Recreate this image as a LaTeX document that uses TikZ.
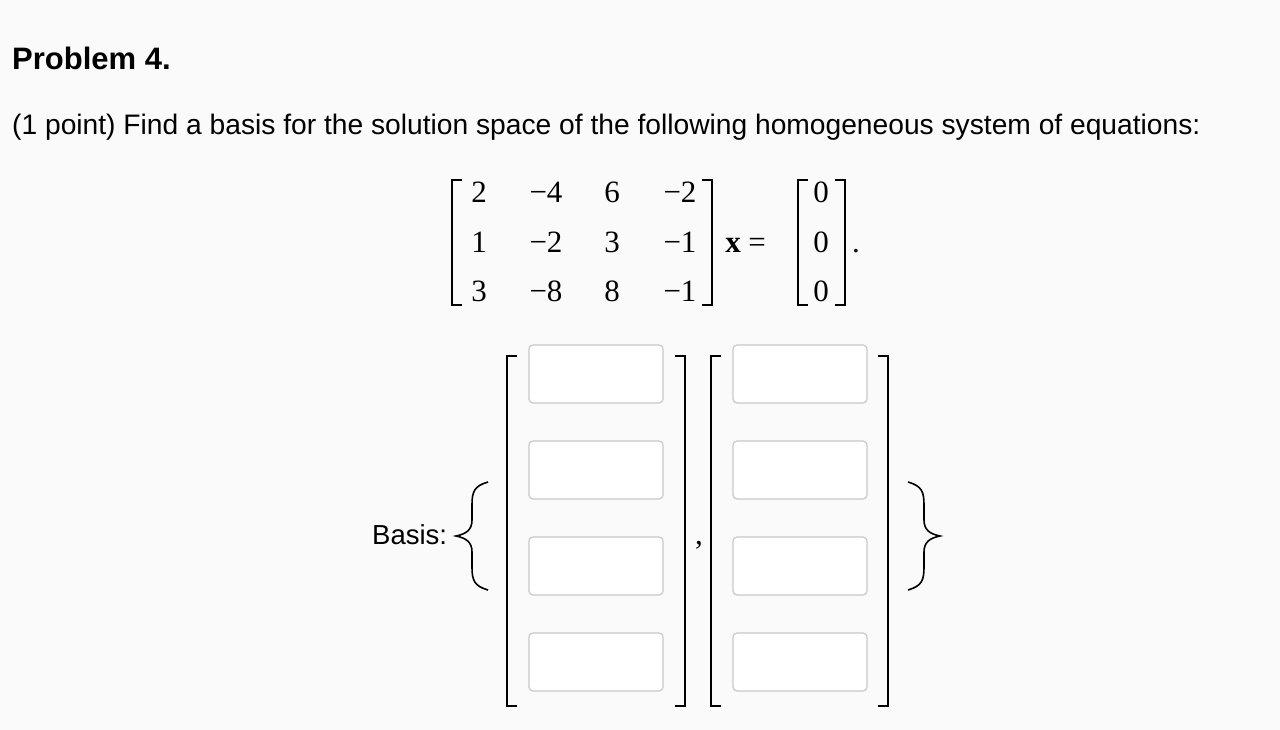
\documentclass[tikz,border=0pt]{standalone}
\usepackage{fontspec}
\setmainfont{Liberation Sans}
\newfontfamily\serif{Liberation Serif}
\definecolor{bg}{HTML}{FAFAFA}
\definecolor{boxc}{HTML}{C8C8C8}
\begin{document}
\begin{tikzpicture}[x=1pt,y=-1pt,
  inbox/.style={draw=boxc,fill=white,rounded corners=4pt,minimum width=134pt,minimum height=58pt,line width=1.2pt,inner sep=0},
  num/.style={font=\serif\fontsize{31}{31}\selectfont,anchor=base,inner sep=0},
  brk/.style={line width=1.6pt}]
\fill[bg] (0,0) rectangle (1280,730);
\useasboundingbox (0,0) rectangle (1280,730);
\node[anchor=base west,font=\bfseries\fontsize{31}{31}\selectfont,inner sep=0] (title) at (12,70) {Problem 4.};
\node[anchor=base west,font=\fontsize{28.2}{28}\selectfont,inner sep=0] (q) at (12,135) {(1 point) Find a basis for the solution space of the following homogeneous system of equations:};
% matrix brackets
\draw[brk] (462,180) -- (452,180) -- (452,305) -- (462,305);
\draw[brk] (702,180) -- (712,180) -- (712,305) -- (702,305);
\node[num] (a11) at (479,203) {2};
\node[num] (a12) at (546,203) {−4};
\node[num] (a13) at (612,203) {6};
\node[num] (a14) at (680,203) {−2};
\node[num] (a21) at (479,252) {1};
\node[num] (a22) at (546,252) {−2};
\node[num] (a23) at (612,252) {3};
\node[num] (a24) at (680,252) {−1};
\node[num] (a31) at (479,301) {3};
\node[num] (a32) at (546,301) {−8};
\node[num] (a33) at (612,301) {8};
\node[num] (a34) at (680,301) {−1};
\node[num,font=\serif\bfseries\fontsize{31}{31}\selectfont] (xv) at (733,252) {x};
\node[num] (eq) at (757,252) {=};
\draw[brk] (808,180) -- (798,180) -- (798,305) -- (808,305);
\draw[brk] (835,180) -- (845,180) -- (845,305) -- (835,305);
\node[num] (b1) at (821,203) {0};
\node[num] (b2) at (821,252) {0};
\node[num] (b3) at (821,301) {0};
\node[num] (dot) at (856,252) {.};
% basis
\node[anchor=base west,font=\fontsize{27.5}{27}\selectfont,inner sep=0] (basis) at (372,544) {Basis:};
\draw[line width=1.6pt] (488,482) .. controls (474,486) and (472,492) .. (472,505) -- (472,520) .. controls (472,530) and (466,534) .. (456,536) .. controls (466,538) and (472,542) .. (472,552) -- (472,567) .. controls (472,580) and (474,586) .. (488,590);
\draw[line width=1.6pt] (908,482) .. controls (922,486) and (924,492) .. (924,505) -- (924,520) .. controls (924,530) and (930,534) .. (940,536) .. controls (930,538) and (924,542) .. (924,552) -- (924,567) .. controls (924,580) and (922,586) .. (908,590);
\draw[brk] (517,356) -- (507,356) -- (507,706) -- (517,706);
\draw[brk] (675,356) -- (685,356) -- (685,706) -- (675,706);
\draw[brk] (721,356) -- (711,356) -- (711,706) -- (721,706);
\draw[brk] (878,356) -- (888,356) -- (888,706) -- (878,706);
\foreach \i/\y in {1/374,2/470,3/566,4/662}{
  \node[inbox] (u\i) at (596,\y) {};
  \node[inbox] (v\i) at (800,\y) {};
}
\node[num] (comma) at (699,544) {,};
\end{tikzpicture}
\end{document}
